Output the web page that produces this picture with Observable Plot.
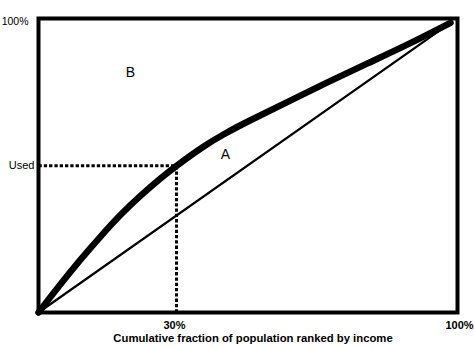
<!DOCTYPE html>
<html>
<head>
<meta charset="utf-8">
<script src="https://cdn.jsdelivr.net/npm/d3@7"></script>
<script src="https://cdn.jsdelivr.net/npm/@observablehq/plot@0.6"></script>
<style>
  html, body { margin: 0; padding: 0; background: #fff; }
  #chart svg { display: block; }
</style>
</head>
<body>
<div id="chart"></div>
<script>
// Cumulative fraction of population (x) vs cumulative fraction used (y)
const popShare  = [0, 0.05, 0.10, 0.15, 0.20, 0.25, 0.30, 0.335, 0.40, 0.45, 0.50, 0.60, 0.70, 0.80, 0.90, 1];
const usedShare = [0, 0.092, 0.180, 0.262, 0.340, 0.407, 0.468, 0.507, 0.574, 0.616, 0.654, 0.724, 0.794, 0.861, 0.927, 1];

// Line of equality
const equalityX = [0, 1];
const equalityY = [0, 1];

// Point marked by the dotted guides
const markX = 0.335;
const markY = 0.507;

// Axis tick positions and their labels
const xTickValues = [markX, 1];
const xTickLabels = ["30%", "100%"];
const yTickValues = [markY, 1];
const yTickLabels = ["Used", "100%"];

// Region labels
const regionNames = ["B", "A"];
const regionX = [0.223, 0.454];
const regionY = [0.829, 0.545];

const curve = popShare.map((x, i) => ({x, y: usedShare[i]}));
const equality = equalityX.map((x, i) => ({x, y: equalityY[i]}));
const regions = regionNames.map((name, i) => ({name, x: regionX[i], y: regionY[i]}));

const font = "Liberation Sans, Arial, Helvetica, sans-serif";
const dotted = {x: "x", y: "y", stroke: "#000", strokeWidth: 3, strokeDasharray: "3.3,2", strokeLinecap: "butt"};

const chart = Plot.plot({
  width: 474,
  height: 348,
  marginLeft: 38,
  marginRight: 17,
  marginTop: 18,
  marginBottom: 36,
  style: {fontFamily: font, fontSize: "11px", color: "#000", background: "#fff"},
  x: {domain: [0, 1.017]},
  y: {domain: [0, 1.015]},
  marks: [
    // Dotted guides to the marked point
    Plot.line([{x: 0, y: markY}, {x: markX, y: markY}], dotted),
    Plot.line([{x: markX, y: 0}, {x: markX, y: markY}], dotted),
    // Equality diagonal
    Plot.line(equality, {x: "x", y: "y", stroke: "#000", strokeWidth: 2.2}),
    // Concentration curve
    Plot.line(curve, {x: "x", y: "y", stroke: "#000", strokeWidth: 6.5, curve: "basis"}),
    Plot.text(regions, {x: "x", y: "y", text: "name", fontSize: 14, fill: "#000"}),
    Plot.frame({stroke: "#000", strokeWidth: 4}),
    Plot.axisX([xTickValues[0]], {tickSize: 0, tickPadding: 9, dx: -2, tickFormat: () => xTickLabels[0], fontWeight: "bold", fontSize: 11, label: null}),
    Plot.axisX([xTickValues[1]], {tickSize: 0, tickPadding: 9, dx: 9, tickFormat: () => xTickLabels[1], fontWeight: "bold", fontSize: 11, label: null}),
    Plot.axisY([yTickValues[0]], {tickSize: 0, tickPadding: 4, tickFormat: () => yTickLabels[0], fontSize: 11, label: null}),
    Plot.axisY([yTickValues[1]], {tickSize: 0, tickPadding: 10, dy: -1, tickFormat: () => yTickLabels[1], fontSize: 10.5, label: null}),
    Plot.text(["Cumulative fraction of population ranked by income"], {
      frameAnchor: "bottom", dy: 29, dx: 5, text: d => d, fontWeight: "bold", fontSize: 11.3, fill: "#000"
    })
  ]
});

document.getElementById("chart").appendChild(chart);
</script>
</body>
</html>
